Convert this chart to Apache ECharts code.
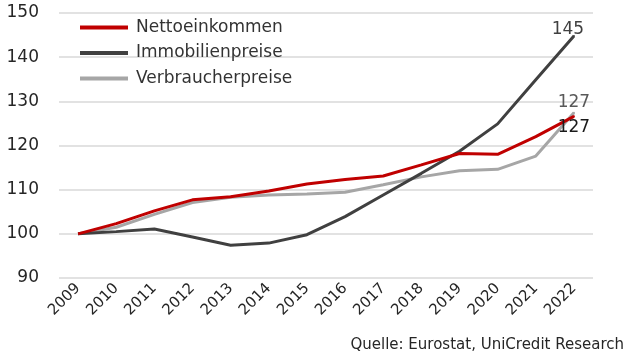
<!DOCTYPE html>
<html>
<head>
<meta charset="utf-8">
<script src="https://cdn.jsdelivr.net/npm/echarts@6/dist/echarts.min.js"></script>
<style>html,body{margin:0;padding:0;background:#fff}#c{width:632px;height:358px}</style>
</head>
<body>
<div id="c"></div>
<script>
const years = ['2009','2010','2011','2012','2013','2014','2015','2016','2017','2018','2019','2020','2021','2022'];
const nettoeinkommen = [100, 102.3, 105.2, 107.7, 108.4, 109.7, 111.3, 112.3, 113.1, 115.6, 118.2, 118.0, 122.0, 126.6];
const immobilienpreise = [100, 100.5, 101.1, 99.3, 97.4, 97.9, 99.8, 103.9, 108.8, 113.7, 118.7, 124.9, 134.9, 144.8];
const verbraucherpreise = [100, 101.5, 104.4, 107.1, 108.3, 108.8, 109.0, 109.4, 111.1, 112.9, 114.3, 114.6, 117.6, 127.4];
const yTicks = [90, 100, 110, 120, 130, 140, 150];

const FONT = 'DejaVu Sans';
function withEndLabel(arr, color, labelOpt) {
  return arr.map((v, i) => i === arr.length - 1
    ? { value: v, symbol: 'circle', symbolSize: 2, itemStyle: { color: color },
        label: Object.assign({ show: true, fontFamily: FONT, fontSize: 17, formatter: p => Math.round(p.value) }, labelOpt) }
    : v);
}

const chart = echarts.init(document.getElementById('c'), null, { renderer: 'canvas' });
chart.setOption({
  animation: false,
  backgroundColor: '#ffffff',
  grid: { left: 59, right: 39, top: 13, bottom: 80, containLabel: false },
  legend: {
    orient: 'vertical', left: 80, top: 19, padding: 0,
    icon: 'rect', itemWidth: 48, itemHeight: 4, itemGap: 8.5,
    textStyle: { fontFamily: FONT, fontSize: 17, color: '#333333', padding: [0, 0, 0, 3] },
    data: ['Nettoeinkommen', 'Immobilienpreise', 'Verbraucherpreise']
  },
  xAxis: {
    type: 'category', data: years, boundaryGap: true,
    axisLine: { show: false }, axisTick: { show: false },
    axisLabel: { rotate: 45, interval: 0, fontFamily: FONT, fontSize: 15, color: '#262626', margin: 8 }
  },
  yAxis: {
    type: 'value', min: yTicks[0], max: yTicks[yTicks.length - 1], interval: 10,
    axisLine: { show: false }, axisTick: { show: false },
    splitLine: { lineStyle: { color: '#d9d9d9', width: 1.5 } },
    axisLabel: { fontFamily: FONT, fontSize: 17, color: '#262626', margin: 20 }
  },
  series: [
    { name: 'Verbraucherpreise', type: 'line', data: withEndLabel(verbraucherpreise, '#a6a6a6', { position: 'top', color: '#595959', distance: 1 }),
      symbol: 'none', lineStyle: { color: '#a6a6a6', width: 3 }, itemStyle: { color: '#a6a6a6' }, z: 2 },
    { name: 'Immobilienpreise', type: 'line', data: withEndLabel(immobilienpreise, '#404040', { position: 'top', color: '#404040', distance: 0, offset: [-6, 3] }),
      symbol: 'none', lineStyle: { color: '#404040', width: 3 }, itemStyle: { color: '#404040' }, z: 3 },
    { name: 'Nettoeinkommen', type: 'line', data: withEndLabel(nettoeinkommen, '#c00000', { position: 'bottom', color: '#1a1a1a', distance: 2 }),
      symbol: 'none', lineStyle: { color: '#c00000', width: 3 }, itemStyle: { color: '#c00000' }, z: 4 }
  ],
  graphic: [{
    type: 'text', right: 8, top: 338,
    style: { text: 'Quelle: Eurostat, UniCredit Research', fontFamily: FONT, fontSize: 15, fill: '#262626' }
  }]
});
</script>
</body>
</html>
